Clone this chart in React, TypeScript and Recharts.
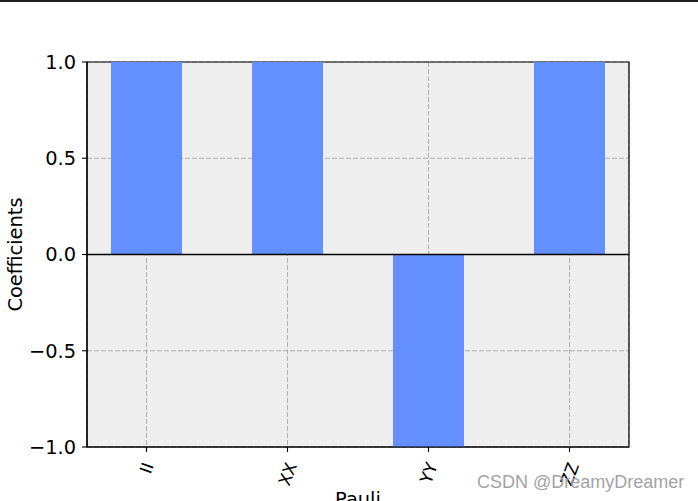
import React from 'react';
import { Bar, BarChart, CartesianGrid, ReferenceArea, ReferenceLine, XAxis, YAxis } from 'recharts';

const categories = ['II', 'XX', 'YY', 'ZZ'];
const coefficients = [1, 1, -1, 1];
const yTicks = [-1, -0.5, 0, 0.5, 1];
const xTicks = [0, 1, 2, 3];
const xDomain: [number, number] = [-0.422, 3.422];
const yDomain: [number, number] = [-1, 1];

const data = categories.map((label, i) => ({ pos: i, label, value: coefficients[i] }));

const FONT = '"DejaVu Sans", sans-serif';
const TICK_FS = 17;
const LABEL_FS = 19.4;

const fmtY = (v: number) => (v < 0 ? '\u2212' : '') + Math.abs(v).toFixed(1);

let ctx: CanvasRenderingContext2D | null = null;
function textWidth(s: string, fs: number) {
  if (!ctx) ctx = document.createElement('canvas').getContext('2d');
  if (!ctx) return s.length * fs * 0.6;
  ctx.font = `${fs}px "DejaVu Sans"`;
  return ctx.measureText(s).width;
}

// rotated 70° like the matplotlib labels, box centred under the tick, top at y
function PauliTick(props: any) {
  const { x, y, payload } = props;
  const label = categories[payload.value] ?? '';
  const a = (70 * Math.PI) / 180;
  const h = textWidth(label, TICK_FS) * Math.sin(a) + TICK_FS * 0.73 * Math.cos(a);
  const cy = y + h / 2;
  return (
    <text
      x={x}
      y={cy}
      dy="0.36em"
      textAnchor="middle"
      transform={`rotate(-70 ${x} ${cy})`}
      fill="#000"
      fontSize={TICK_FS}
      fontFamily={FONT}
    >
      {label}
    </text>
  );
}

export default function App() {
  return (
    <div style={{ position: 'absolute', left: 0, top: 0, width: 698, height: 501, background: '#fff', overflow: 'hidden' }}>
      <div style={{ position: 'absolute', left: 0, top: 0, width: 698, height: 2, background: '#1e1e1e' }} />
      <BarChart width={698} height={501} data={data} margin={{ top: 62, right: 69, left: 27, bottom: 14 }}>
        <CartesianGrid fill="#eeeeee" stroke="#b0b0b0" strokeDasharray="5 2" strokeWidth={1} />
        <XAxis
          dataKey="pos"
          type="number"
          domain={xDomain}
          ticks={xTicks}
          allowDataOverflow
          height={40}
          tick={<PauliTick />}
          tickSize={5}
          tickMargin={9}
          axisLine={{ stroke: '#000', strokeWidth: 1.2 }}
          tickLine={{ stroke: '#000', strokeWidth: 1.1 }}
          interval={0}
          label={{
            content: ({ viewBox }: any) => (
              <text
                x={viewBox.x + viewBox.width / 2}
                y={viewBox.y + 59}
                textAnchor="middle"
                fontSize={LABEL_FS}
                fontFamily={FONT}
                fill="#000"
              >
                Pauli
              </text>
            ),
          }}
        />
        <YAxis
          domain={yDomain}
          ticks={yTicks}
          allowDataOverflow
          width={60}
          tickFormatter={fmtY}
          tickSize={5}
          tickMargin={6}
          tick={{ fill: '#000', fontSize: LABEL_FS, fontFamily: FONT }}
          axisLine={{ stroke: '#000', strokeWidth: 1.2 }}
          tickLine={{ stroke: '#000', strokeWidth: 1.1 }}
          label={{
            content: ({ viewBox }: any) => {
              const cx = viewBox.x - 5;
              const cy = viewBox.y + viewBox.height / 2;
              return (
                <text
                  x={cx}
                  y={cy}
                  textAnchor="middle"
                  transform={`rotate(-90 ${cx} ${cy})`}
                  fontSize={LABEL_FS}
                  fontFamily={FONT}
                  fill="#000"
                >
                  Coefficients
                </text>
              );
            },
          }}
        />
        <Bar dataKey="value" fill="#648fff" barSize={71} isAnimationActive={false} />
        <ReferenceLine y={0} stroke="#000" strokeWidth={1.3} />
        <ReferenceArea
          x1={xDomain[0]}
          x2={xDomain[1]}
          y1={yDomain[0]}
          y2={yDomain[1]}
          fill="none"
          fillOpacity={0}
          stroke="#000"
          strokeWidth={1.2}
          ifOverflow="visible"
        />
      </BarChart>
      <svg width={698} height={501} style={{ position: 'absolute', left: 0, top: 0, pointerEvents: 'none' }}>
        <text x={477} y={488} fontSize={18} fontFamily='"Liberation Sans", Arial, sans-serif' fill="#a3a3a3">
          CSDN @DreamyDreamer
        </text>
      </svg>
    </div>
  );
}
